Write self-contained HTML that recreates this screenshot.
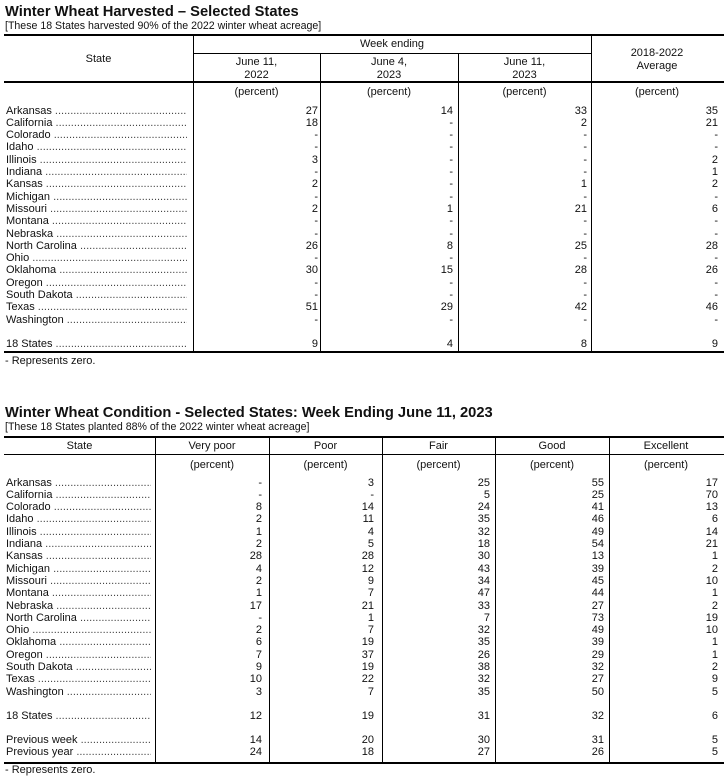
<!DOCTYPE html>
<html><head><meta charset="utf-8"><style>
body{margin:0;background:#fff;}
#p{position:relative;width:728px;height:783px;overflow:hidden;font-family:"Liberation Sans",Arial,sans-serif;font-size:11px;color:#111;}
.a{position:absolute;white-space:nowrap;line-height:13px;}
.t{font-weight:bold;font-size:14.7px;line-height:18px;}
.s{font-size:10.6px;}
.h{position:absolute;height:1px;background:#000;}
.hb{position:absolute;height:2px;background:#000;}
.v{position:absolute;width:1px;background:#000;}
.c{text-align:center;}
.r{position:absolute;left:0;width:728px;height:13px;line-height:13px;}
.r span{position:absolute;text-align:right;width:40px;}
.l{position:absolute;left:6px;overflow:hidden;white-space:nowrap;}
.l::after{content:" ..............................................................................................";color:#444;}
.t1 .l{width:181px}.t2 .l{width:145px}
.t1 span:nth-of-type(1){right:410px}.t1 span:nth-of-type(2){right:275px}.t1 span:nth-of-type(3){right:141px}.t1 span:nth-of-type(4){right:10px}
.t2 span:nth-of-type(1){right:466px}.t2 span:nth-of-type(2){right:354px}.t2 span:nth-of-type(3){right:238px}.t2 span:nth-of-type(4){right:124px}.t2 span:nth-of-type(5){right:10px}
</style></head><body><div id="p">
<div class="a t" style="left:5px;top:3px">Winter Wheat Harvested – Selected States</div>
<div class="a s" style="left:5px;top:20px">[These 18 States harvested 90% of the 2022 winter wheat acreage]</div>
<div class="hb" style="left:4px;top:34px;width:720px"></div>
<div class="h" style="left:193px;top:53px;width:398px"></div>
<div class="hb" style="left:4px;top:81px;width:720px"></div>
<div class="hb" style="left:4px;top:351px;width:720px"></div>
<div class="v" style="left:193px;top:35px;height:317px"></div>
<div class="v" style="left:320px;top:53px;height:299px"></div>
<div class="v" style="left:458px;top:53px;height:299px"></div>
<div class="v" style="left:591px;top:35px;height:317px"></div>
<div class="a c" style="left:4px;width:189px;top:53px">State</div>
<div class="a c" style="left:193px;width:398px;top:38px">Week ending</div>
<div class="a c" style="left:193px;width:127px;top:56px">June 11,<br>2022</div>
<div class="a c" style="left:320px;width:138px;top:56px">June 4,<br>2023</div>
<div class="a c" style="left:458px;width:133px;top:56px">June 11,<br>2023</div>
<div class="a c" style="left:591px;width:132px;top:47px">2018-2022<br>Average</div>
<div class="a c" style="left:193px;width:127px;top:86px">(percent)</div>
<div class="a c" style="left:320px;width:138px;top:86px">(percent)</div>
<div class="a c" style="left:458px;width:133px;top:86px">(percent)</div>
<div class="a c" style="left:591px;width:132px;top:86px">(percent)</div>
<div class="r t1" style="top:104.5px"><div class="l">Arkansas</div><span>27</span><span>14</span><span>33</span><span>35</span></div>
<div class="r t1" style="top:116.8px"><div class="l">California</div><span>18</span><span>-</span><span>2</span><span>21</span></div>
<div class="r t1" style="top:129.1px"><div class="l">Colorado</div><span>-</span><span>-</span><span>-</span><span>-</span></div>
<div class="r t1" style="top:141.4px"><div class="l">Idaho</div><span>-</span><span>-</span><span>-</span><span>-</span></div>
<div class="r t1" style="top:153.7px"><div class="l">Illinois</div><span>3</span><span>-</span><span>-</span><span>2</span></div>
<div class="r t1" style="top:166px"><div class="l">Indiana</div><span>-</span><span>-</span><span>-</span><span>1</span></div>
<div class="r t1" style="top:178.3px"><div class="l">Kansas</div><span>2</span><span>-</span><span>1</span><span>2</span></div>
<div class="r t1" style="top:190.6px"><div class="l">Michigan</div><span>-</span><span>-</span><span>-</span><span>-</span></div>
<div class="r t1" style="top:202.9px"><div class="l">Missouri</div><span>2</span><span>1</span><span>21</span><span>6</span></div>
<div class="r t1" style="top:215.2px"><div class="l">Montana</div><span>-</span><span>-</span><span>-</span><span>-</span></div>
<div class="r t1" style="top:227.5px"><div class="l">Nebraska</div><span>-</span><span>-</span><span>-</span><span>-</span></div>
<div class="r t1" style="top:239.8px"><div class="l">North Carolina</div><span>26</span><span>8</span><span>25</span><span>28</span></div>
<div class="r t1" style="top:252.1px"><div class="l">Ohio</div><span>-</span><span>-</span><span>-</span><span>-</span></div>
<div class="r t1" style="top:264.4px"><div class="l">Oklahoma</div><span>30</span><span>15</span><span>28</span><span>26</span></div>
<div class="r t1" style="top:276.7px"><div class="l">Oregon</div><span>-</span><span>-</span><span>-</span><span>-</span></div>
<div class="r t1" style="top:289px"><div class="l">South Dakota</div><span>-</span><span>-</span><span>-</span><span>-</span></div>
<div class="r t1" style="top:301.3px"><div class="l">Texas</div><span>51</span><span>29</span><span>42</span><span>46</span></div>
<div class="r t1" style="top:313.6px"><div class="l">Washington</div><span>-</span><span>-</span><span>-</span><span>-</span></div>
<div class="r t1" style="top:337.5px"><div class="l">18 States</div><span>9</span><span>4</span><span>8</span><span>9</span></div>
<div class="a" style="left:5px;top:355px">- Represents zero.</div>

<div class="a t" style="left:5px;top:404px">Winter Wheat Condition - Selected States: Week Ending June 11, 2023</div>
<div class="a s" style="left:5px;top:421px">[These 18 States planted 88% of the 2022 winter wheat acreage]</div>
<div class="hb" style="left:4px;top:436px;width:720px"></div>
<div class="h" style="left:4px;top:454px;width:720px"></div>
<div class="hb" style="left:4px;top:762px;width:720px"></div>
<div class="v" style="left:155px;top:437px;height:326px"></div>
<div class="v" style="left:269px;top:437px;height:326px"></div>
<div class="v" style="left:382px;top:437px;height:326px"></div>
<div class="v" style="left:495px;top:437px;height:326px"></div>
<div class="v" style="left:609px;top:437px;height:326px"></div>
<div class="a c" style="left:4px;width:151px;top:440px">State</div>
<div class="a c" style="left:155px;width:114px;top:440px">Very poor</div>
<div class="a c" style="left:269px;width:113px;top:440px">Poor</div>
<div class="a c" style="left:382px;width:113px;top:440px">Fair</div>
<div class="a c" style="left:495px;width:114px;top:440px">Good</div>
<div class="a c" style="left:609px;width:114px;top:440px">Excellent</div>
<div class="a c" style="left:155px;width:114px;top:459px">(percent)</div>
<div class="a c" style="left:269px;width:113px;top:459px">(percent)</div>
<div class="a c" style="left:382px;width:113px;top:459px">(percent)</div>
<div class="a c" style="left:495px;width:114px;top:459px">(percent)</div>
<div class="a c" style="left:609px;width:114px;top:459px">(percent)</div>
<div class="r t2" style="top:476.5px"><div class="l">Arkansas</div><span>-</span><span>3</span><span>25</span><span>55</span><span>17</span></div>
<div class="r t2" style="top:488.8px"><div class="l">California</div><span>-</span><span>-</span><span>5</span><span>25</span><span>70</span></div>
<div class="r t2" style="top:501.1px"><div class="l">Colorado</div><span>8</span><span>14</span><span>24</span><span>41</span><span>13</span></div>
<div class="r t2" style="top:513.4px"><div class="l">Idaho</div><span>2</span><span>11</span><span>35</span><span>46</span><span>6</span></div>
<div class="r t2" style="top:525.7px"><div class="l">Illinois</div><span>1</span><span>4</span><span>32</span><span>49</span><span>14</span></div>
<div class="r t2" style="top:538px"><div class="l">Indiana</div><span>2</span><span>5</span><span>18</span><span>54</span><span>21</span></div>
<div class="r t2" style="top:550.3px"><div class="l">Kansas</div><span>28</span><span>28</span><span>30</span><span>13</span><span>1</span></div>
<div class="r t2" style="top:562.6px"><div class="l">Michigan</div><span>4</span><span>12</span><span>43</span><span>39</span><span>2</span></div>
<div class="r t2" style="top:574.9px"><div class="l">Missouri</div><span>2</span><span>9</span><span>34</span><span>45</span><span>10</span></div>
<div class="r t2" style="top:587.2px"><div class="l">Montana</div><span>1</span><span>7</span><span>47</span><span>44</span><span>1</span></div>
<div class="r t2" style="top:599.5px"><div class="l">Nebraska</div><span>17</span><span>21</span><span>33</span><span>27</span><span>2</span></div>
<div class="r t2" style="top:611.8px"><div class="l">North Carolina</div><span>-</span><span>1</span><span>7</span><span>73</span><span>19</span></div>
<div class="r t2" style="top:624.1px"><div class="l">Ohio</div><span>2</span><span>7</span><span>32</span><span>49</span><span>10</span></div>
<div class="r t2" style="top:636.4px"><div class="l">Oklahoma</div><span>6</span><span>19</span><span>35</span><span>39</span><span>1</span></div>
<div class="r t2" style="top:648.7px"><div class="l">Oregon</div><span>7</span><span>37</span><span>26</span><span>29</span><span>1</span></div>
<div class="r t2" style="top:661px"><div class="l">South Dakota</div><span>9</span><span>19</span><span>38</span><span>32</span><span>2</span></div>
<div class="r t2" style="top:673.3px"><div class="l">Texas</div><span>10</span><span>22</span><span>32</span><span>27</span><span>9</span></div>
<div class="r t2" style="top:685.6px"><div class="l">Washington</div><span>3</span><span>7</span><span>35</span><span>50</span><span>5</span></div>
<div class="r t2" style="top:709.5px"><div class="l">18 States</div><span>12</span><span>19</span><span>31</span><span>32</span><span>6</span></div>
<div class="r t2" style="top:733.5px"><div class="l">Previous week</div><span>14</span><span>20</span><span>30</span><span>31</span><span>5</span></div>
<div class="r t2" style="top:745.8px"><div class="l">Previous year</div><span>24</span><span>18</span><span>27</span><span>26</span><span>5</span></div>
<div class="a" style="left:5px;top:764px">- Represents zero.</div>
</div></body></html>
